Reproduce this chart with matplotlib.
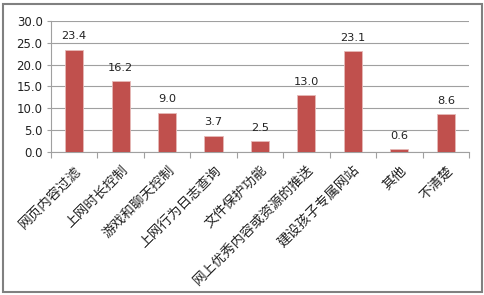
import matplotlib.pyplot as plt
from matplotlib.patches import Rectangle

plt.rcParams['font.family'] = ['Noto Sans CJK SC', 'DejaVu Sans']

categories = ['网页内容过滤', '上网时长控制', '游戏和聊天控制', '上网行为日志查询',
              '文件保护功能', '网上优秀内容或资源的推送', '建设孩子专属网站', '其他', '不清楚']
values = [23.4, 16.2, 9.0, 3.7, 2.5, 13.0, 23.1, 0.6, 8.6]
yticks = [0, 5, 10, 15, 20, 25, 30]

fig = plt.figure(figsize=(4.85, 2.95), dpi=100)
ax = fig.add_axes([0.105, 0.485, 0.862, 0.444])

x = range(len(categories))
ax.bar(x, values, width=0.39, color='#C0504D', edgecolor='#E6B9B8', linewidth=0.6, zorder=3)
for i, v in zip(x, values):
    ax.text(i, v + 1.9, f'{v:.1f}', ha='center', va='bottom', fontsize=8.2,
            family='DejaVu Sans', color='#222222')

ax.set_xlim(-0.5, len(categories) - 0.5)
ax.set_ylim(0, 30)
ax.set_yticks(yticks)
ax.set_yticklabels([f'{t:.1f}' for t in yticks], fontsize=8.5, family='DejaVu Sans', color='#222222')
ax.yaxis.grid(True, color='#A0A0A0', linewidth=0.8, zorder=0)
ax.tick_params(axis='y', length=3, color='#A0A0A0', pad=3)

ax.set_xticks([i + 0.5 for i in range(-1, len(categories))], minor=False)
ax.set_xticklabels([])
ax.tick_params(axis='x', length=4, color='#A0A0A0', direction='out')
ax.set_xticks(list(x), minor=True)
ax.set_xticklabels(categories, minor=True, rotation=45, ha='right', rotation_mode='anchor',
                   fontsize=9.8, color='#222222')
ax.tick_params(axis='x', which='minor', length=0, pad=8)

for s in ['top', 'right']:
    ax.spines[s].set_visible(False)
ax.spines['left'].set_color('#A0A0A0')
ax.spines['bottom'].set_color('#A0A0A0')

fig.patches.append(Rectangle((0.007, 0.01), 0.986, 0.977, transform=fig.transFigure,
                             fill=False, edgecolor='#808080', linewidth=1.5))

fig.savefig('out.png', dpi=100)
